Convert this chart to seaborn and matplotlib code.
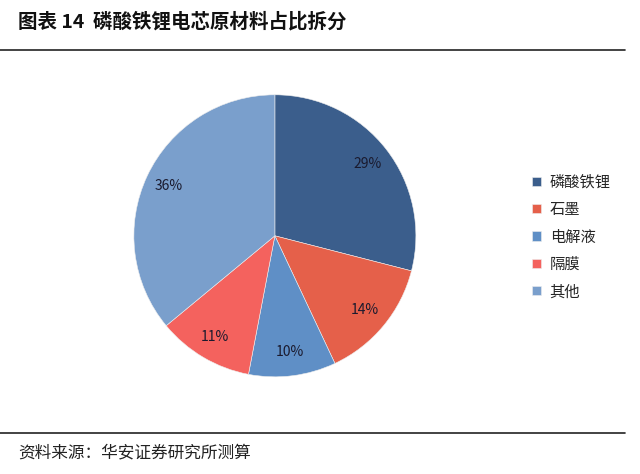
import matplotlib
matplotlib.use('Agg')
import matplotlib.pyplot as plt
import seaborn as sns
import numpy as np

# 数据
materials = ['磷酸铁锂', '石墨', '电解液', '隔膜', '其他']
shares = [29, 14, 10, 11, 36]
pct_labels = ['29%', '14%', '10%', '11%', '36%']
colors = ['#3B5E8C', '#E5604A', '#5F8FC6', '#F4625E', '#7A9FCC']

sns.set_theme(style='white')
plt.rcParams['font.family'] = ['Noto Sans CJK SC', 'DejaVu Sans']

fig = plt.figure(figsize=(6.4, 4.74), dpi=100)
fig.patch.set_facecolor('white')

# titolo e linee
fig.text(0.028, 0.955, '图表 14  磷酸铁锂电芯原材料占比拆分', fontsize=14, fontweight='black',
         va='center', ha='left', color='#111111')
fig.add_artist(plt.Line2D([0.0, 0.977], [0.895, 0.895], color='#222222', lw=1.2))
fig.add_artist(plt.Line2D([0.0, 0.977], [0.087, 0.087], color='#222222', lw=1.2))
fig.text(0.028, 0.045, '资料来源：华安证券研究所测算', fontsize=12, va='center', ha='left', color='#222222')

# torta
ax = fig.add_axes([0.209, 0.205, 0.441, 0.595])
wedges, _ = ax.pie(shares, colors=colors, startangle=90, counterclock=False,
                   wedgeprops=dict(linewidth=0.4, edgecolor='#eeeeee'))
for w, lab in zip(wedges, pct_labels):
    ang = np.deg2rad((w.theta1 + w.theta2) / 2)
    ax.text(0.83 * np.cos(ang), 0.83 * np.sin(ang), lab, ha='center', va='center',
            fontsize=10, color='#1a1a2e')
ax.set_xlim(-1, 1)
ax.set_ylim(-1, 1)
ax.set_aspect('equal')
ax.axis('off')

# legenda
leg = fig.legend(wedges, materials, loc='center left', bbox_to_anchor=(0.81, 0.50),
                 frameon=False, fontsize=11, handlelength=0.55, handleheight=0.55,
                 handletextpad=0.6, labelspacing=0.68)

fig.savefig('out.png', dpi=100, facecolor='white')
